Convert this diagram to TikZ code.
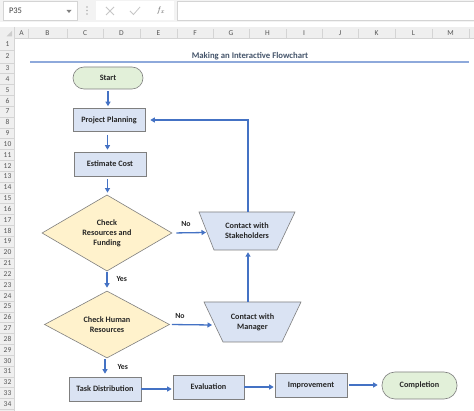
\documentclass[tikz,border=0pt]{standalone}
\usepackage{fontspec}
\setmainfont{Carlito}
\usetikzlibrary{shapes.geometric,arrows.meta,calc}
\definecolor{barbg}{HTML}{F3F3F3}
\definecolor{hdrbg}{HTML}{EFEFEF}
\definecolor{hdrline}{HTML}{D4D4D4}
\definecolor{hdrtext}{HTML}{555555}
\definecolor{arrowblue}{HTML}{4472C4}
\definecolor{boxblue}{HTML}{DAE3F3}
\definecolor{termgreen}{HTML}{E2F0D9}
\definecolor{decyellow}{HTML}{FFF2CC}
\definecolor{bordergray}{HTML}{7F7F7F}
\definecolor{textdark}{HTML}{262626}
\definecolor{titlecol}{HTML}{44546A}
\definecolor{titleline}{HTML}{8EA9DB}
\tikzset{
  shapetext/.style={font=\bfseries\fontsize{8.2}{10}\selectfont, text=textdark, align=center},
  procbox/.style={shapetext, draw=bordergray, line width=0.6pt, fill=boxblue, inner sep=0pt},
  termbox/.style={procbox, fill=termgreen, rounded corners=11pt},
  decbox/.style={shapetext, diamond, draw=bordergray, line width=0.6pt, fill=decyellow, inner sep=0pt},
  trapfill/.style={draw=bordergray, line width=0.6pt, fill=boxblue},
  arr/.style={draw=arrowblue, line width=1.3pt, -{Triangle[length=4.5pt,width=5pt]}},
  lab/.style={font=\bfseries\fontsize{7.8}{9}\selectfont, text=textdark},
  collab/.style={font=\fontsize{7.5}{8}\selectfont, text=hdrtext},
  rowlab/.style={font=\fontsize{7.5}{8}\selectfont, text=hdrtext},
}
\begin{document}
\begin{tikzpicture}[x=1pt,y=-1pt]
\useasboundingbox (0,0) rectangle (474,411);
\fill[white] (0,0) rectangle (474,411);
% ---------- Excel chrome ----------
\fill[barbg] (0,0) rectangle (474,22);
\draw[hdrline, fill=white] (3,1.5) rectangle (77,20);
\node[anchor=west, font=\fontsize{8.5}{9}\selectfont, text=black!75] (namebox) at (5.5,11) {P35};
\fill[gray] (66.5,10) -- (71.5,10) -- (69,13) -- cycle;
\foreach \yy in {7,10.5,14} \fill[gray!60] (87,\yy) circle (0.8);
\fill[white] (96,1.5) rectangle (174,20);
\draw[gray!45, line width=0.8pt] (106,7) -- (114,15) (106,15) -- (114,7);
\draw[gray!45, line width=0.8pt] (130,11) -- (133.5,14.5) -- (140,7);
\node[text=gray!80!black, font=\fontsize{8.5}{9}\selectfont] (fx) at (161,10.5) {$f_x$};
\draw[hdrline, fill=white] (177,1.5) rectangle (476,20);
% header row
\fill[hdrbg] (0,27) rectangle (474,38.5);
\draw[hdrline] (0,38.5) -- (474,38.5);
\fill[hdrbg] (0,38.5) rectangle (14.5,411);
\draw[hdrline] (14.5,27) -- (14.5,411);
\fill[gray!40] (12,31) -- (12,36.5) -- (6.5,36.5) -- cycle;
\foreach \xx in {28,67,103,140,177,213,249,286,322,358,395,432,469}
  \draw[hdrline] (\xx,29) -- (\xx,38.5);
\foreach \c/\xx in {A/21.5,B/47.5,C/85,D/121.5,E/158.5,F/195,G/231,H/267.5,I/304,J/340,K/376.5,L/413.5,M/450.5}
  \node[collab] (col\c) at (\xx,33) {\c};
% row numbers
\node[rowlab] (r1) at (7.5,44.5) {1};
\node[rowlab] (r2) at (7.5,56.5) {2};
\draw[hdrline] (0,50.5) -- (14.5,50.5);
\draw[hdrline] (0,62.8) -- (14.5,62.8);
\foreach \n in {3,...,34} {
  \node[rowlab] (r\n) at (7.5,{68.2+(\n-3)*10.83}) {\n};
  \draw[hdrline] (0,{73.6+(\n-3)*10.83}) -- (14.5,{73.6+(\n-3)*10.83});
}
% ---------- title ----------
\node[font=\bfseries\fontsize{8.7}{10}\selectfont, text=titlecol] (title) at (250,56) {Making an Interactive Flowchart};
\draw[titleline, line width=1.4pt] (30,62) -- (469,62);
% ---------- shapes ----------
\node[termbox, minimum width=70pt, minimum height=22pt] (start) at (108,78) {Start};
\node[procbox, minimum width=72pt, minimum height=23pt] (pp) at (109,120) {Project Planning};
\node[procbox, minimum width=72pt, minimum height=24pt] (ec) at (110,164) {Estimate Cost};
\node[decbox, minimum width=130pt, minimum height=72pt] (d1) at (107,233) {Check\\Resources and\\Funding};
\node[decbox, minimum width=125pt, minimum height=67pt] (d2) at (107,324.5) {Check Human\\Resources};
\node[procbox, minimum width=72pt, minimum height=24pt] (td) at (105,389) {Task Distribution};
\node[procbox, minimum width=71pt, minimum height=24pt] (ev) at (208.5,387) {Evaluation};
\node[procbox, minimum width=72pt, minimum height=24pt] (imp) at (311,385) {Improvement};
\node[termbox, minimum width=75pt, minimum height=27pt, rounded corners=13pt] (comp) at (419.5,385.5) {Completion};
% trapezoids
\draw[trapfill] (199,212) -- (295,212) -- (277,250) -- (214,250) -- cycle;
\node[shapetext, minimum width=63pt, minimum height=38pt, inner sep=0pt] (stake) at (247,231) {Contact with\\Stakeholders};
\draw[trapfill] (204,302) -- (301,302) -- (282,342) -- (223,342) -- cycle;
\node[shapetext, minimum width=59pt, minimum height=40pt, inner sep=0pt] (mgr) at (252.5,322) {Contact with\\Manager};
\coordinate (stakein) at (206,232.5);
\coordinate (mgrin) at (212,325);
% ---------- connectors ----------
\draw[arr, shorten <=2pt, shorten >=2pt] (start.south) -- (start.south |- pp.north);
\draw[arr, shorten <=3pt, shorten >=2pt] ([xshift=-1.5pt]pp.south) -- ([xshift=-1.5pt]pp.south |- ec.north);
\draw[arr, shorten <=3pt, shorten >=2pt] ([xshift=-2.5pt]ec.south) -- ([xshift=-2.5pt]ec.south |- d1.north);
\draw[arr, shorten <=1pt, shorten >=3pt] (d1.south) -- (d1.south |- d2.north);
\node[lab, anchor=west] (yes1) at (113,279) {Yes};
\draw[arr, shorten <=1pt, shorten >=3pt] ([xshift=-2pt]d2.south) -- ([xshift=-2pt]d2.south |- td.north);
\node[lab, anchor=west] (yes2) at (114,367) {Yes};
\draw[arr, shorten >=1pt] (td.east) -- (td.east -| ev.west);
\draw[arr, shorten >=1pt] (ev.east) -- (ev.east -| imp.west);
\draw[arr, shorten <=2pt, shorten >=4pt] (imp.east) -- (imp.east -| comp.west);
\draw[arr, shorten <=4pt] (d1.east) -- (stakein);
\node[lab] (no1) at (186,224) {No};
\draw[arr, shorten <=2pt] (d2.east) -- (mgrin);
\node[lab] (no2) at (180,316) {No};
\draw[arr, shorten >=2pt] ([xshift=-4.5pt]mgr.north) -- ([xshift=-4.5pt]mgr.north |- stake.south);
\draw[arr, shorten >=5pt] ([xshift=1pt]stake.north) |- (pp.east);
\end{tikzpicture}
\end{document}
